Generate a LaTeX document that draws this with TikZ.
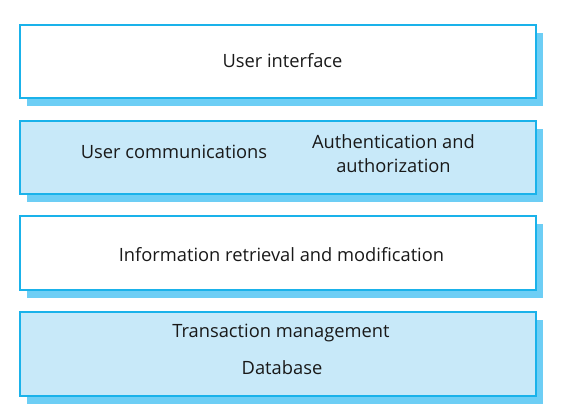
\documentclass[tikz,border=0pt]{standalone}
\usepackage{fontspec}
\setmainfont{Open Sans}
\usetikzlibrary{shadows}
\definecolor{layerline}{HTML}{1AB2EA}
\definecolor{layerfill}{HTML}{C8E9F9}
\definecolor{layershade}{HTML}{6DCEF5}
\tikzset{
	layer/.style={draw=layerline, line width=1.6pt, minimum width=516pt, minimum height=73pt,
		drop shadow={shadow xshift=7pt, shadow yshift=-8pt, fill=layershade, opacity=1}},
	txt/.style={font=\fontsize{18.3}{23.5}\selectfont, text=black!90, align=center}
}
\begin{document}
\begin{tikzpicture}[x=1pt, y=-1pt]
	\useasboundingbox (0,0) rectangle (563,414);
	
	\node[layer, fill=white] (ui) at (278,61.5) {};
	\node[layer, fill=layerfill] (comm) at (278,157.5) {};
	\node[layer, fill=white, minimum height=74pt] (info) at (278,253) {};
	\node[layer, fill=layerfill, minimum height=84pt] (db) at (278,354) {};
	
	\node[txt] (uitxt) at (282.5,61) {User interface};
	\node[txt] (usrcomm) at (174,152) {User communications};
	\node[txt] (auth) at (393.5,153.5) {Authentication and\\authorization};
	\node[txt] (infotxt) at (281.5,255) {Information retrieval and modification};
	\node[txt] (trans) at (281,333) {Transaction management};
	\node[txt] (dbtxt) at (282,368) {Database};
\end{tikzpicture}
\end{document}
